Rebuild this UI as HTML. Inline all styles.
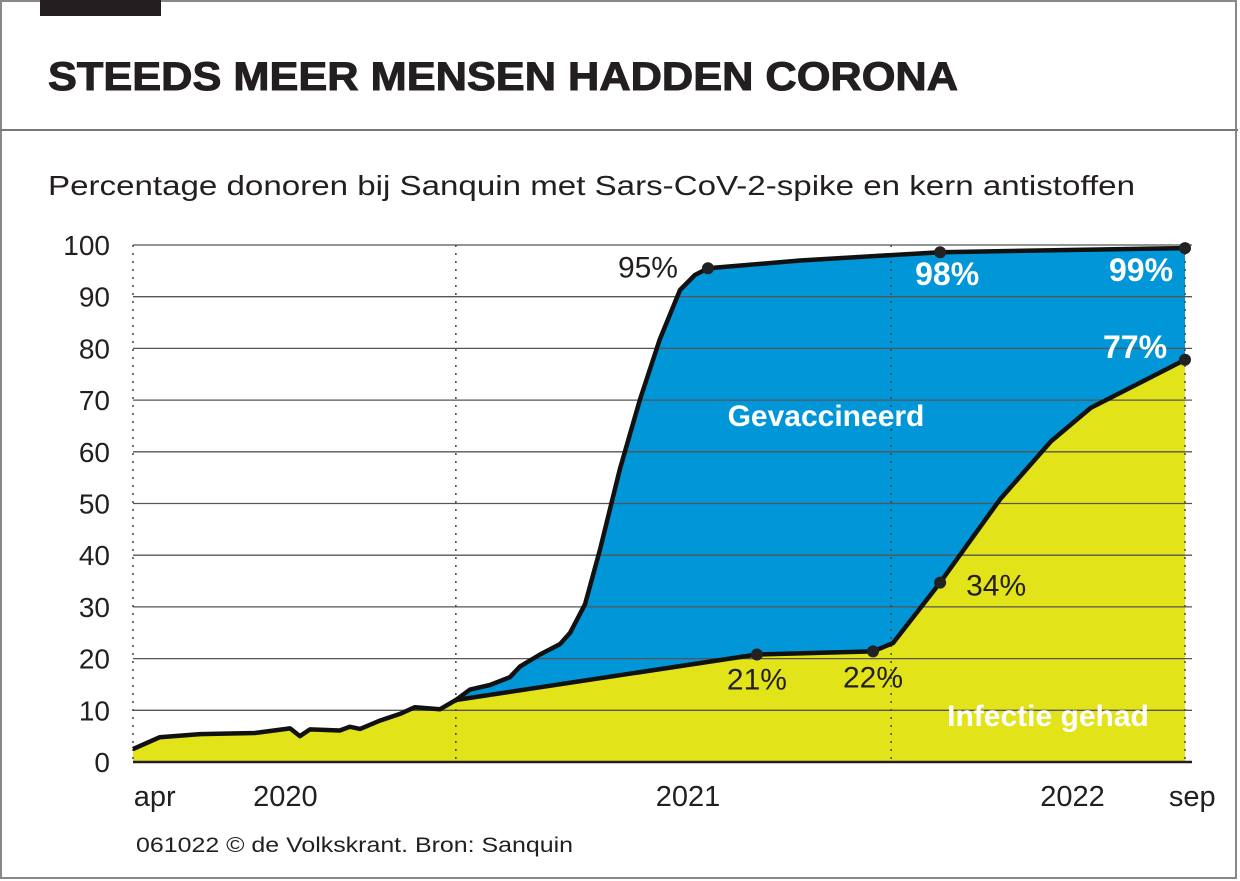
<!DOCTYPE html>
<html><head><meta charset="utf-8"><style>
html,body{margin:0;padding:0;background:#fff}
svg{display:block;font-family:"Liberation Sans",sans-serif}
</style></head><body>
<svg width="1240" height="881" viewBox="0 0 1240 881">
<rect x="1" y="1" width="1235" height="877" fill="none" stroke="#888" stroke-width="2"/>
<rect x="40" y="0" width="121" height="16" fill="#231f20"/>
<text x="48" y="90" font-size="40" font-weight="bold" fill="#231f20" stroke="#231f20" stroke-width="1" textLength="910" lengthAdjust="spacingAndGlyphs">STEEDS MEER MENSEN HADDEN CORONA</text>
<line x1="0" y1="130" x2="1238" y2="130" stroke="#777" stroke-width="2"/>
<text x="48" y="195" font-size="28" fill="#231f20" textLength="1087" lengthAdjust="spacingAndGlyphs">Percentage donoren bij Sanquin met Sars-CoV-2-spike en kern antistoffen</text>
<g id="plot"></g>
<text x="136" y="852" font-size="21" fill="#231f20" textLength="437" lengthAdjust="spacingAndGlyphs">061022 © de Volkskrant. Bron: Sanquin</text>
</svg>
<script>
const yTicks=[0,10,20,30,40,50,60,70,80,90,100];
const xLabels=["apr","2020","2021","2022","sep"];
const xLabelMonths=[0.6,4.2,15.3,25.9,29.2];
const dividerMonths=[0,8.9,20.9];
const infMonths=[0,0.74,1.85,3.36,4.33,4.6,4.88,5.7,5.98,6.26,6.81,7.36,7.77,8.46,8.9,17.2,20.4,20.95,22.25,23.9,25.3,26.4,29];
const infValues=[2.5,4.8,5.4,5.6,6.5,5,6.3,6.1,6.8,6.4,8,9.3,10.6,10.2,12,20.8,21.4,23,34.7,50.8,62,68.5,77.8];
const vacMonths=[8.9,9.29,9.84,10.39,10.67,11.22,11.77,12.05,12.46,12.87,13.42,13.97,14.52,15.08,15.49,15.85,18.39,22.25,29];
const vacValues=[12,14,14.9,16.4,18.5,20.8,22.8,25,30.5,41,56.6,70,81.7,91.3,94.2,95.5,97,98.6,99.4];
const vacDotMonths=[15.85,22.25,29];
const vacDotValues=[95.5,98.6,99.4];
const vacDotLabels=["95%","98%","99%"];
const infDotMonths=[17.2,20.4,22.25,29];
const infDotValues=[20.8,21.4,34.7,77.8];
const infDotLabels=["21%","22%","34%","77%"];

const X0=133,X1=1185,MMAX=29,Y0=762,Y100=245;
const xs=m=>X0+(X1-X0)*m/MMAX;
const ys=v=>Y0-(Y0-Y100)*v/100;
const NS="http://www.w3.org/2000/svg";
const g=document.getElementById('plot');
function mk(tag,attrs,parent){const e=document.createElementNS(NS,tag);for(const k in attrs)e.setAttribute(k,attrs[k]);(parent||g).appendChild(e);return e;}
const pts=(ms,vs)=>ms.map((m,i)=>xs(m).toFixed(1)+","+ys(vs[i]).toFixed(1));

const infTail=[],infTailV=[];
infMonths.forEach((m,i)=>{if(m>=8.9){infTail.push(m);infTailV.push(infValues[i]);}});
const blue=mk('polygon',{points:pts(vacMonths,vacValues).concat(pts(infTail,infTailV).reverse()).join(' '),fill:'#0096d8'});


const yel=mk('polygon',{points:[xs(0)+","+Y0].concat(pts(infMonths,infValues),[xs(29)+","+Y0]).join(' '),fill:'#e2e318'});



yTicks.forEach(t=>{
 const l=mk('line',{x1:X0,x2:1192,y1:ys(t),y2:ys(t),stroke:t===0?'#231f20':'#555','stroke-width':t===0?2.5:1.3});
 
 
 const tx=mk('text',{x:110,y:ys(t)+10,'font-size':28,fill:'#231f20','text-anchor':'end'});
 tx.textContent=t;
 
 
});
dividerMonths.concat([29]).forEach(m=>{
 const l=mk('line',{x1:xs(m),x2:xs(m),y1:Y100,y2:Y0,stroke:'#444','stroke-width':1.5,'stroke-dasharray':'2 6'});
 
 
});
xLabels.forEach((s,i)=>{
 const tx=mk('text',{x:xs(xLabelMonths[i]),y:806,'font-size':29,fill:'#231f20','text-anchor':'middle'});
 tx.textContent=s;
 
 
});

const vl=mk('polyline',{points:pts(vacMonths,vacValues).join(' '),fill:'none',stroke:'#111','stroke-width':4.5,'stroke-linejoin':'round'});


const il=mk('polyline',{points:pts(infMonths,infValues).join(' '),fill:'none',stroke:'#111','stroke-width':4.5,'stroke-linejoin':'round'});



const vOff=[[-60,9,'#231f20',false],[7,33,'#fff',true],[-44,33,'#fff',true]];
vacDotMonths.forEach((m,i)=>{
 const c=mk('circle',{cx:xs(m),cy:ys(vacDotValues[i]),r:6,fill:'#222'});
 
 
 const o=vOff[i];
 const tx=mk('text',{x:xs(m)+o[0],y:ys(vacDotValues[i])+o[1],'font-size':o[3]?32:30,'font-weight':o[3]?'bold':'normal',fill:o[2],'text-anchor':'middle'});
 tx.textContent=vacDotLabels[i];
 
 
});
const iOff=[[0,35],[0,36],[56,13],[-50,-2]];
infDotMonths.forEach((m,i)=>{
 const c=mk('circle',{cx:xs(m),cy:ys(infDotValues[i]),r:6,fill:'#222'});
 
 
 const o=iOff[i];
 const tx=mk('text',{x:xs(m)+o[0],y:ys(infDotValues[i])+o[1],'font-size':i===3?32:30,'font-weight':i===3?'bold':'normal',fill:i===3?'#fff':'#231f20','text-anchor':'middle'});
 tx.textContent=infDotLabels[i];
 
 
});
const gl=mk('text',{x:826,y:426,'font-size':30,'font-weight':'bold',fill:'#fff','text-anchor':'middle'});
gl.textContent='Gevaccineerd';


const ig=mk('text',{x:1048,y:726,'font-size':30,'font-weight':'bold',fill:'#fff','text-anchor':'middle'});
ig.textContent='Infectie gehad';


</script>
</body></html>
